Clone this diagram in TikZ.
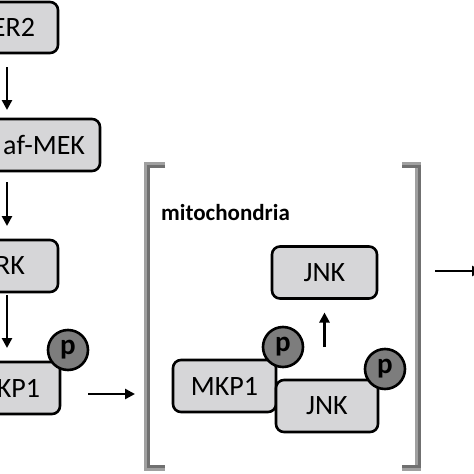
\documentclass[tikz,border=0pt]{standalone}
\usepackage{fontspec}
\setmainfont{Carlito}
\usetikzlibrary{arrows.meta}
\definecolor{boxgray}{RGB}{214,214,216}
\definecolor{pgray}{RGB}{125,125,125}
\definecolor{bracketlight}{RGB}{160,160,160}
\definecolor{bracketdark}{RGB}{112,112,112}
\tikzstyle{protein}=[draw=black, line width=2.6pt, fill=boxgray, rounded corners=8pt, minimum height=52pt, outer sep=0pt, font=\fontsize{28}{30}\selectfont]
\tikzstyle{cut}=[protein, text width=130pt, align=right, anchor=east]
\tikzstyle{phospho}=[circle, draw=black, line width=2.6pt, fill=pgray, minimum size=40pt, inner sep=0pt, outer sep=0pt, font=\bfseries\fontsize{29}{30}\selectfont]
\tikzstyle{signal}=[line width=2.6pt, -{Triangle[length=10pt,width=10pt]}]
\tikzstyle{membrane}=[line width=6pt, bracketlight]
\tikzstyle{membraneshade}=[line width=3pt, bracketdark]

\begin{document}
\begin{tikzpicture}[x=1pt, y=-1pt]
  \useasboundingbox (0,0) rectangle (474,474);
  \coordinate (stem) at (7,0);
  \coordinate (brin) at (147,394);
  \coordinate (brout) at (418,271);
  \coordinate (next) at (482,271);

  % cascade on the left, cut off by the edge
  \node[cut, inner xsep=23pt, minimum height=51pt] (her2) at (58,27.5) {ER2};
  \node[cut, inner xsep=15pt] (raf) at (100,145) {af-MEK};
  \node[cut, inner xsep=33pt] (erk) at (58,266) {RK};
  \node[cut, inner xsep=20pt] (mkp) at (60,388) {KP1};
  \node[phospho] (mkpp) at (68,350) {p};

  \draw[signal, shorten <=14pt, shorten >=9pt] (her2.south -| stem) -- (raf.north -| stem);
  \draw[signal, shorten <=11pt, shorten >=14pt] (raf.south -| stem) -- (erk.north -| stem);
  \draw[signal, shorten <=3pt, shorten >=14pt] (erk.south -| stem) -- (mkp.north -| stem);
  \draw[signal, shorten <=28pt, shorten >=12pt] (mkp.east |- brin) -- (brin);

  % mitochondria brackets
  \draw[membrane] (165,165) -- (147,165) -- (147,468) -- (165,468);
  \draw[membraneshade] (165,166.5) -- (148.5,166.5) -- (148.5,466.5) -- (165,466.5);
  \draw[membrane] (402,165) -- (418,165) -- (418,468) -- (402,468);
  \draw[membraneshade] (402,166.5) -- (419.5,166.5) -- (419.5,466.5) -- (402,466.5);
  \node[font=\bfseries\fontsize{23}{24}\selectfont, anchor=west, inner sep=0pt] (mito) at (161,213) {mitochondria};

  \node[protein, minimum width=105pt] (jnkup) at (324.5,272.5) {JNK};
  \node[protein, minimum width=103pt] (mkpin) at (224.5,386) {MKP1};
  \node[phospho] (mkpinp) at (283,347) {p};
  \node[protein, minimum width=102pt] (jnk) at (327,406) {JNK};
  \node[phospho] (jnkp) at (385,369) {p};

  \draw[signal, shorten <=33pt, shorten >=14pt] (jnk.north -| jnkup.south) -- (jnkup.south);
  \draw[signal, shorten <=17pt] (brout) -- (next);
\end{tikzpicture}
\end{document}
